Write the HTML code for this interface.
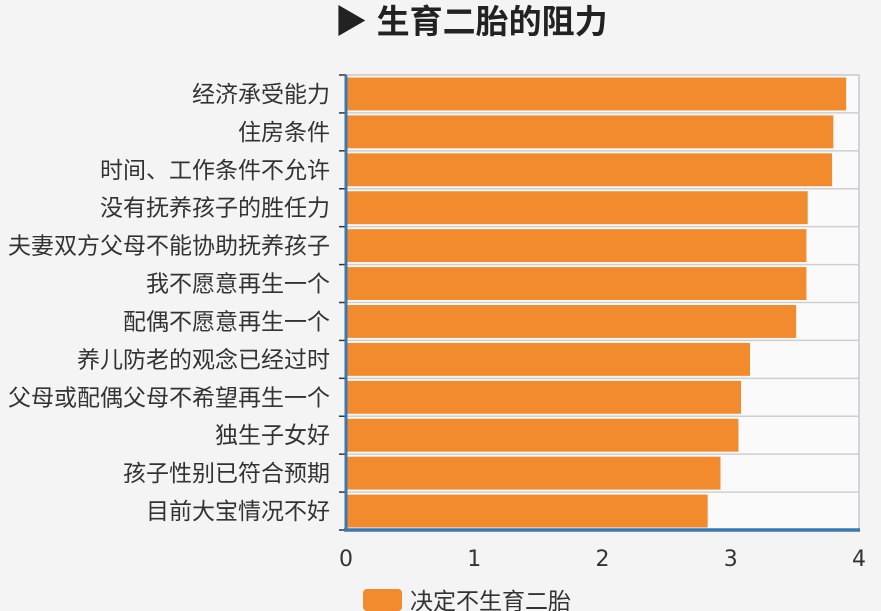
<!DOCTYPE html>
<html><head><meta charset="utf-8"><style>
body{margin:0;background:#f4f4f4;font-family:"Liberation Sans","Noto Sans CJK SC",sans-serif;}
svg{display:block}
</style></head><body>
<svg id="c" width="881" height="611" xmlns="http://www.w3.org/2000/svg">
<rect width="881" height="611" fill="#f4f4f4"/>
<text x="471" y="33" text-anchor="middle" font-size="33" font-weight="bold" fill="#222" font-family="Liberation Sans,Noto Sans CJK SC,sans-serif">▶ 生育二胎的阻力</text>
<g id="plot"></g>
<rect x="363" y="589" width="39" height="22" rx="4" fill="#f28a2e"/>
<text x="410" y="609" font-size="23" fill="#333" font-family="Liberation Sans,Noto Sans CJK SC,sans-serif">决定不生育二胎</text>
</svg>
<script>
const categories=["经济承受能力","住房条件","时间、工作条件不允许","没有抚养孩子的胜任力","夫妻双方父母不能协助抚养孩子","我不愿意再生一个","配偶不愿意再生一个","养儿防老的观念已经过时","父母或配偶父母不希望再生一个","独生子女好","孩子性别已符合预期","目前大宝情况不好"];
const values=[3.9,3.8,3.79,3.6,3.59,3.59,3.51,3.15,3.08,3.06,2.92,2.82];
const ticks=[0,1,2,3,4];
const NS="http://www.w3.org/2000/svg";
const g=document.getElementById('plot');
const x0=346,x1=859,yTop=75,yBot=530;
const xs=v=>x0+(v-ticks[0])/(ticks[ticks.length-1]-ticks[0])*(x1-x0);
const band=(yBot-yTop)/categories.length;
function el(t,a){const e=document.createElementNS(NS,t);for(const k in a)e.setAttribute(k,a[k]);g.appendChild(e);return e;}
let r=el('rect',{x:x0,y:yTop,width:x1-x0,height:yBot-yTop,fill:'#fafafa',stroke:'#c8c8d0','stroke-width':1.5});


categories.forEach((c,i)=>{
  const y=yTop+i*band;
  const gl=el('line',{x1:x0,x2:x1,y1:y,y2:y,stroke:'#cfcfcf','stroke-width':1.5});
  
  
  const tk=el('line',{x1:x0-7,x2:x0,y1:y,y2:y,stroke:'#333','stroke-width':1.5});
  
  
  const b=el('rect',{x:x0,y:y+2.5,width:xs(values[i])-x0,height:band-5,fill:'#f28a2e'});
  
  
  const t=el('text',{x:330,y:y+band/2+8,'text-anchor':'end','font-size':23,fill:'#333','font-family':'Liberation Sans,Noto Sans CJK SC,sans-serif'});
  t.textContent=c;
  
  
});
const lt=el('line',{x1:x0-7,x2:x0,y1:yBot,y2:yBot,stroke:'#333','stroke-width':1.5});


const ya=el('line',{x1:x0,x2:x0,y1:yTop,y2:yBot,stroke:'#3a78b0','stroke-width':3});


const xa=el('line',{x1:x0-2,x2:x1+1,y1:yBot,y2:yBot,stroke:'#3a78b0','stroke-width':3.5});


ticks.forEach(v=>{
  const t=el('text',{x:xs(v),y:566,'text-anchor':'middle','font-size':22,fill:'#333','font-family':'DejaVu Sans,Liberation Sans,sans-serif'});
  t.textContent=v;
  
  
});
</script>
</body></html>
